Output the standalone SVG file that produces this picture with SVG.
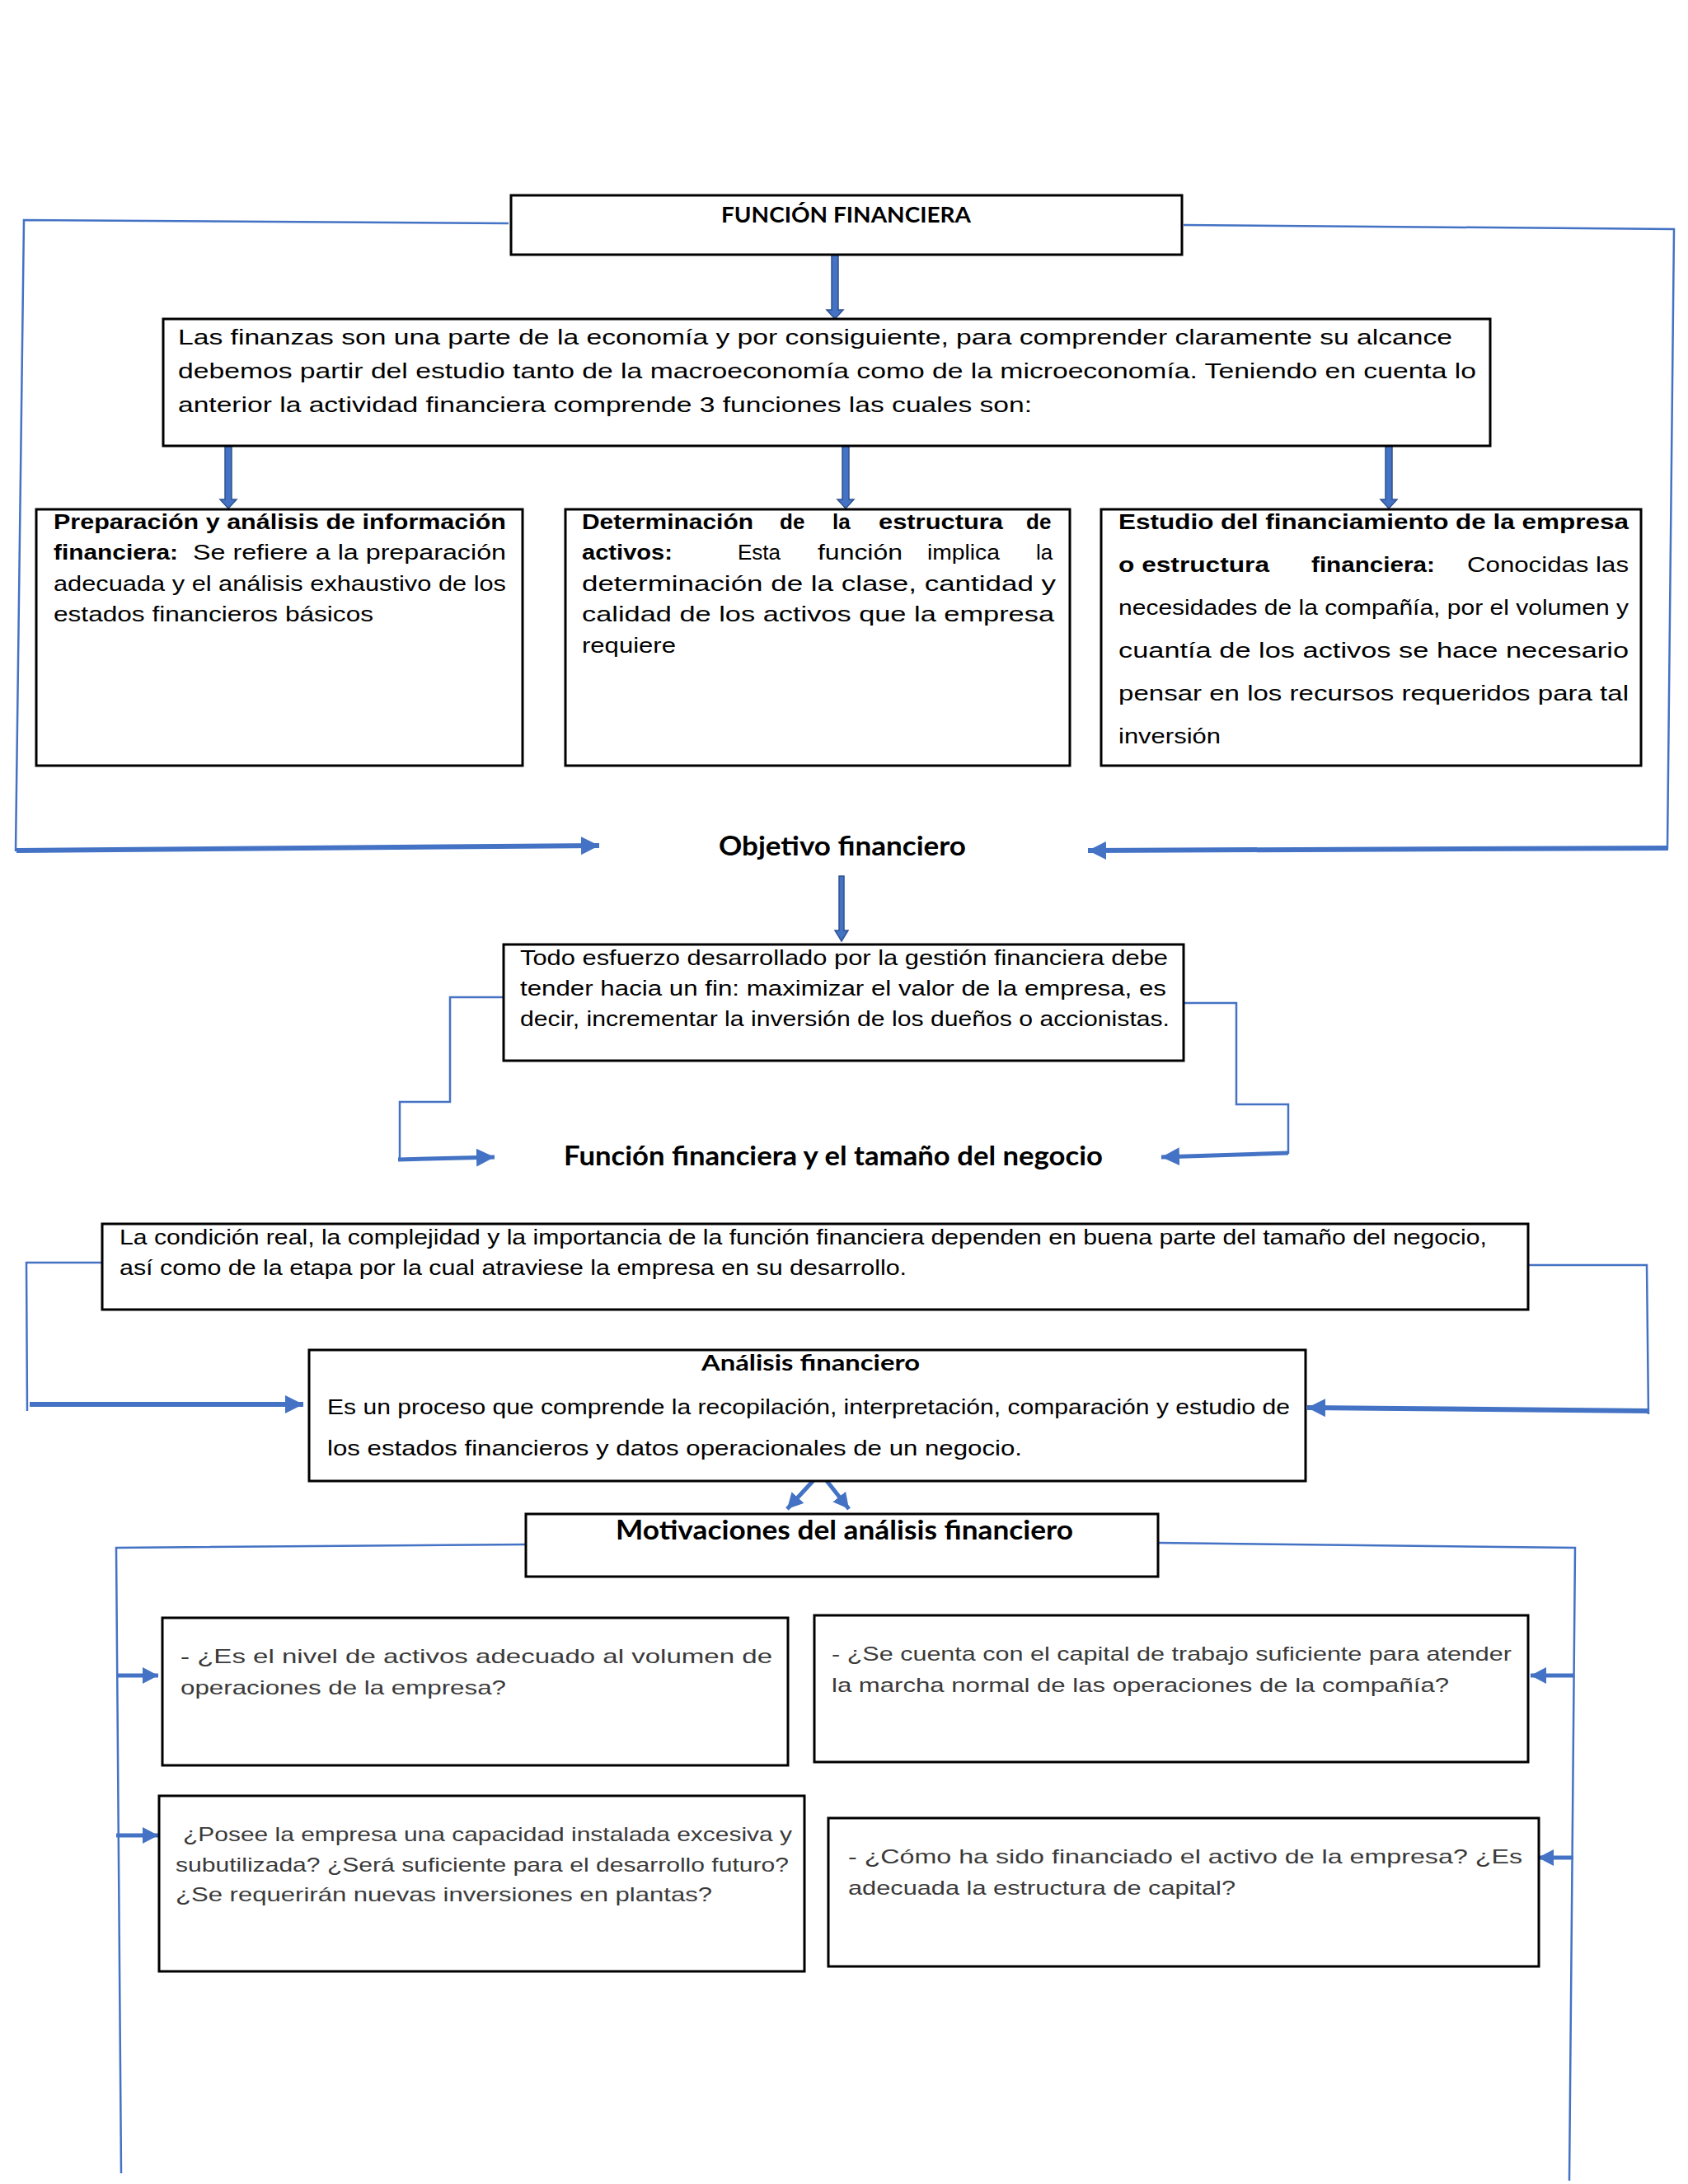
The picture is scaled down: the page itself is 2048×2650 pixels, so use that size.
<svg xmlns="http://www.w3.org/2000/svg" width="2048" height="2650" viewBox="0 0 2048 2650">
<style>
.box{fill:#fff;stroke:#000;stroke-width:3}
.t{font-family:"Liberation Sans",Arial,sans-serif;fill:#000}
.b{font-weight:bold}
.g{fill:#3a3a3a}
.h{font-family:Lato,"Liberation Sans",sans-serif;font-weight:bold;fill:#000}
.thin{fill:none;stroke:#4472C4;stroke-width:2.5}
.thick{fill:none;stroke:#4472C4;stroke-width:6}
.mid{fill:none;stroke:#4472C4;stroke-width:5}
.blk{fill:#4472C4;stroke:#2F528F;stroke-width:1.5}
</style>
<defs>
<marker id="ah" markerUnits="userSpaceOnUse" markerWidth="24" markerHeight="24" refX="22" refY="11" orient="auto">
<path d="M0,0 L22,11 L0,22 z" fill="#4472C4"/>
</marker>
<marker id="ahs" markerUnits="userSpaceOnUse" markerWidth="22" markerHeight="22" refX="19" refY="10" orient="auto">
<path d="M0,0 L19,10 L0,20 z" fill="#4472C4"/>
</marker>
</defs>
<rect width="2048" height="2650" fill="#fff"/>

<g id="connectors">
<polyline class="thin" points="617,271 29,267 19,1033"/>
<line class="thick" x1="20" y1="1032" x2="727" y2="1026" marker-end="url(#ah)"/>
<polyline class="thin" points="1436,273 2031,278 2023,1030"/>
<line class="thick" x1="2024" y1="1029" x2="1320" y2="1032" marker-end="url(#ah)"/>

<path class="blk" d="M1009,309 L1017,309 L1017,376 L1023,376 L1013,387 L1003,376 L1009,376 Z"/>
<path class="blk" d="M273,541 L281,541 L281,606 L287,606 L277,617 L267,606 L273,606 Z"/>
<path class="blk" d="M1022,541 L1030,541 L1030,606 L1036,606 L1026,617 L1016,606 L1022,606 Z"/>
<path class="blk" d="M1681,541 L1689,541 L1689,606 L1695,606 L1685,617 L1675,606 L1681,606 Z"/>
<path class="blk" d="M1018,1063 L1024,1063 L1024,1129 L1029,1129 L1021,1142 L1013,1129 L1018,1129 Z"/>

<polyline class="thin" points="610,1210 546,1210 546,1337 485,1337 485,1406"/>
<line class="mid" x1="483" y1="1407" x2="600" y2="1404" marker-end="url(#ah)"/>
<polyline class="thin" points="1436,1217 1500,1217 1500,1340 1563,1340 1563,1400"/>
<line class="mid" x1="1563" y1="1399" x2="1409" y2="1404" marker-end="url(#ah)"/>

<polyline class="thin" points="124,1532 32,1532 33,1712"/>
<line class="thick" x1="36" y1="1704" x2="368" y2="1704" marker-end="url(#ah)"/>
<polyline class="thin" points="1855,1535 1998,1535 2000,1716"/>
<line class="thick" x1="2001" y1="1712" x2="1586" y2="1708" marker-end="url(#ah)"/>

<line class="mid" x1="990" y1="1793" x2="955" y2="1831" marker-end="url(#ahs)"/>
<line class="mid" x1="1000" y1="1793" x2="1030" y2="1831" marker-end="url(#ahs)"/>

<polyline class="thin" points="638,1874 141,1878 147,2637"/>
<polyline class="thin" points="1405,1872 1911,1878 1904,2646"/>
<line class="mid" x1="141" y1="2033" x2="192" y2="2033" marker-end="url(#ahs)"/>
<line class="mid" x1="1910" y1="2033" x2="1857" y2="2033" marker-end="url(#ahs)"/>
<line class="mid" x1="141" y1="2227" x2="192" y2="2227" marker-end="url(#ahs)"/>
<line class="mid" x1="1909" y1="2254" x2="1866" y2="2254" marker-end="url(#ahs)"/>
</g>

<g id="funcion-financiera">
<rect class="box" x="620" y="237" width="814" height="72"/>
<text class="h" x="875" y="270" font-size="27" textLength="303" lengthAdjust="spacingAndGlyphs">FUNCIÓN FINANCIERA</text>
</g>

<g id="finanzas">
<rect class="box" x="198" y="387" width="1610" height="154"/>
<text class="t" font-size="25">
<tspan x="216" y="418" textLength="1546" lengthAdjust="spacingAndGlyphs">Las finanzas son una parte de la economía y por consiguiente, para comprender claramente su alcance</tspan>
</text>
<text class="t" font-size="25" x="216" y="459" textLength="1575" lengthAdjust="spacingAndGlyphs">debemos partir del estudio tanto de la macroeconomía como de la microeconomía. Teniendo en cuenta lo</text>
<text class="t" font-size="25" x="216" y="500" textLength="1036" lengthAdjust="spacingAndGlyphs">anterior la actividad financiera comprende 3 funciones las cuales son:</text>
</g>

<g id="preparacion">
<rect class="box" x="44" y="618" width="590" height="311"/>
<text class="t b" font-size="26" x="65" y="642" textLength="549" lengthAdjust="spacingAndGlyphs">Preparación y análisis de información</text>
<text class="t b" font-size="26" x="65" y="679" textLength="151" lengthAdjust="spacingAndGlyphs">financiera:</text>
<text class="t" font-size="26" x="234" y="679" textLength="380" lengthAdjust="spacingAndGlyphs">Se refiere a la preparación</text>
<text class="t" font-size="26" x="65" y="717" textLength="549" lengthAdjust="spacingAndGlyphs">adecuada y el análisis exhaustivo de los</text>
<text class="t" font-size="26" x="65" y="754" textLength="388" lengthAdjust="spacingAndGlyphs">estados financieros básicos</text>
</g>

<g id="determinacion">
<rect class="box" x="686" y="618" width="612" height="311"/>
<text class="t b" font-size="26" y="642"><tspan x="706" textLength="208" lengthAdjust="spacingAndGlyphs">Determinación</tspan><tspan x="946">de</tspan><tspan x="1010">la</tspan><tspan x="1066" textLength="151" lengthAdjust="spacingAndGlyphs">estructura</tspan><tspan x="1245">de</tspan></text>
<text class="t b" font-size="26" x="706" y="679" textLength="110" lengthAdjust="spacingAndGlyphs">activos:</text>
<text class="t" font-size="26" y="679"><tspan x="895">Esta</tspan><tspan x="992" textLength="103" lengthAdjust="spacingAndGlyphs">función</tspan><tspan x="1125" textLength="88" lengthAdjust="spacingAndGlyphs">implica</tspan><tspan x="1257">la</tspan></text>
<text class="t" font-size="26" x="706" y="717" textLength="575" lengthAdjust="spacingAndGlyphs">determinación de la clase, cantidad y</text>
<text class="t" font-size="26" x="706" y="754" textLength="573" lengthAdjust="spacingAndGlyphs">calidad de los activos que la empresa</text>
<text class="t" font-size="26" x="706" y="792" textLength="114" lengthAdjust="spacingAndGlyphs">requiere</text>
</g>

<g id="estudio">
<rect class="box" x="1336" y="618" width="655" height="311"/>
<text class="t b" font-size="26" x="1357" y="642" textLength="619" lengthAdjust="spacingAndGlyphs">Estudio del financiamiento de la empresa</text>
<text class="t b" font-size="26" x="1357" y="694" textLength="183" lengthAdjust="spacingAndGlyphs">o estructura</text>
<text class="t b" font-size="26" x="1591" y="694" textLength="150" lengthAdjust="spacingAndGlyphs">financiera:</text>
<text class="t" font-size="26" x="1780" y="694" textLength="196" lengthAdjust="spacingAndGlyphs">Conocidas las</text>
<text class="t" font-size="26" x="1357" y="746" textLength="619" lengthAdjust="spacingAndGlyphs">necesidades de la compañía, por el volumen y</text>
<text class="t" font-size="26" x="1357" y="798" textLength="619" lengthAdjust="spacingAndGlyphs">cuantía de los activos se hace necesario</text>
<text class="t" font-size="26" x="1357" y="850" textLength="619" lengthAdjust="spacingAndGlyphs">pensar en los recursos requeridos para tal</text>
<text class="t" font-size="26" x="1357" y="902" textLength="124" lengthAdjust="spacingAndGlyphs">inversión</text>
</g>

<g id="objetivo-financiero">
<text class="h" font-size="32" x="872" y="1038" textLength="300" lengthAdjust="spacingAndGlyphs">Objetivo financiero</text>
</g>

<g id="todo-esfuerzo">
<rect class="box" x="611" y="1146" width="825" height="141"/>
<text class="t" font-size="25" x="631" y="1171" textLength="786" lengthAdjust="spacingAndGlyphs">Todo esfuerzo desarrollado por la gestión financiera debe</text>
<text class="t" font-size="25" x="631" y="1208" textLength="784" lengthAdjust="spacingAndGlyphs">tender hacia un fin: maximizar el valor de la empresa, es</text>
<text class="t" font-size="25" x="631" y="1245" textLength="788" lengthAdjust="spacingAndGlyphs">decir, incrementar la inversión de los dueños o accionistas.</text>
</g>

<g id="funcion-tamano">
<text class="h" font-size="32" x="684" y="1414" textLength="654" lengthAdjust="spacingAndGlyphs">Función financiera y el tamaño del negocio</text>
</g>

<g id="condicion-real">
<rect class="box" x="124" y="1485" width="1730" height="104"/>
<text class="t" font-size="25" x="145" y="1510" textLength="1659" lengthAdjust="spacingAndGlyphs">La condición real, la complejidad y la importancia de la función financiera dependen en buena parte del tamaño del negocio,</text>
<text class="t" font-size="25" x="145" y="1547" textLength="955" lengthAdjust="spacingAndGlyphs">así como de la etapa por la cual atraviese la empresa en su desarrollo.</text>
</g>

<g id="analisis-financiero">
<rect class="box" x="375" y="1638" width="1209" height="159"/>
<text class="h" font-size="27" x="851" y="1663" textLength="265" lengthAdjust="spacingAndGlyphs">Análisis financiero</text>
<text class="t" font-size="25" x="397" y="1716" textLength="1168" lengthAdjust="spacingAndGlyphs">Es un proceso que comprende la recopilación, interpretación, comparación y estudio de</text>
<text class="t" font-size="25" x="397" y="1766" textLength="843" lengthAdjust="spacingAndGlyphs">los estados financieros y datos operacionales de un negocio.</text>
</g>

<g id="motivaciones">
<rect class="box" x="638" y="1837" width="767" height="76"/>
<text class="h" font-size="32" x="747" y="1868" textLength="555" lengthAdjust="spacingAndGlyphs">Motivaciones del análisis financiero</text>
</g>

<g id="motivacion-activos">
<rect class="box" x="197" y="1963" width="759" height="179"/>
<text class="t g" font-size="24" x="219" y="2018" textLength="718" lengthAdjust="spacingAndGlyphs">- ¿Es el nivel de activos adecuado al volumen de</text>
<text class="t g" font-size="24" x="219" y="2056" textLength="395" lengthAdjust="spacingAndGlyphs">operaciones de la empresa?</text>
</g>

<g id="motivacion-capital">
<rect class="box" x="988" y="1960" width="866" height="178"/>
<text class="t g" font-size="24" x="1009" y="2015" textLength="825" lengthAdjust="spacingAndGlyphs">- ¿Se cuenta con el capital de trabajo suficiente para atender</text>
<text class="t g" font-size="24" x="1009" y="2053" textLength="749" lengthAdjust="spacingAndGlyphs">la marcha normal de las operaciones de la compañía?</text>
</g>

<g id="motivacion-capacidad">
<rect class="box" x="193" y="2179" width="783" height="213"/>
<text class="t g" font-size="24" x="222" y="2234" textLength="739" lengthAdjust="spacingAndGlyphs">¿Posee la empresa una capacidad instalada excesiva y</text>
<text class="t g" font-size="24" x="213" y="2271" textLength="744" lengthAdjust="spacingAndGlyphs">subutilizada? ¿Será suficiente para el desarrollo futuro?</text>
<text class="t g" font-size="24" x="213" y="2307" textLength="651" lengthAdjust="spacingAndGlyphs">¿Se requerirán nuevas inversiones en plantas?</text>
</g>

<g id="motivacion-financiamiento">
<rect class="box" x="1005" y="2206" width="862" height="180"/>
<text class="t g" font-size="24" x="1029" y="2261" textLength="818" lengthAdjust="spacingAndGlyphs">- ¿Cómo ha sido financiado el activo de la empresa? ¿Es</text>
<text class="t g" font-size="24" x="1029" y="2299" textLength="470" lengthAdjust="spacingAndGlyphs">adecuada la estructura de capital?</text>
</g>
</svg>
